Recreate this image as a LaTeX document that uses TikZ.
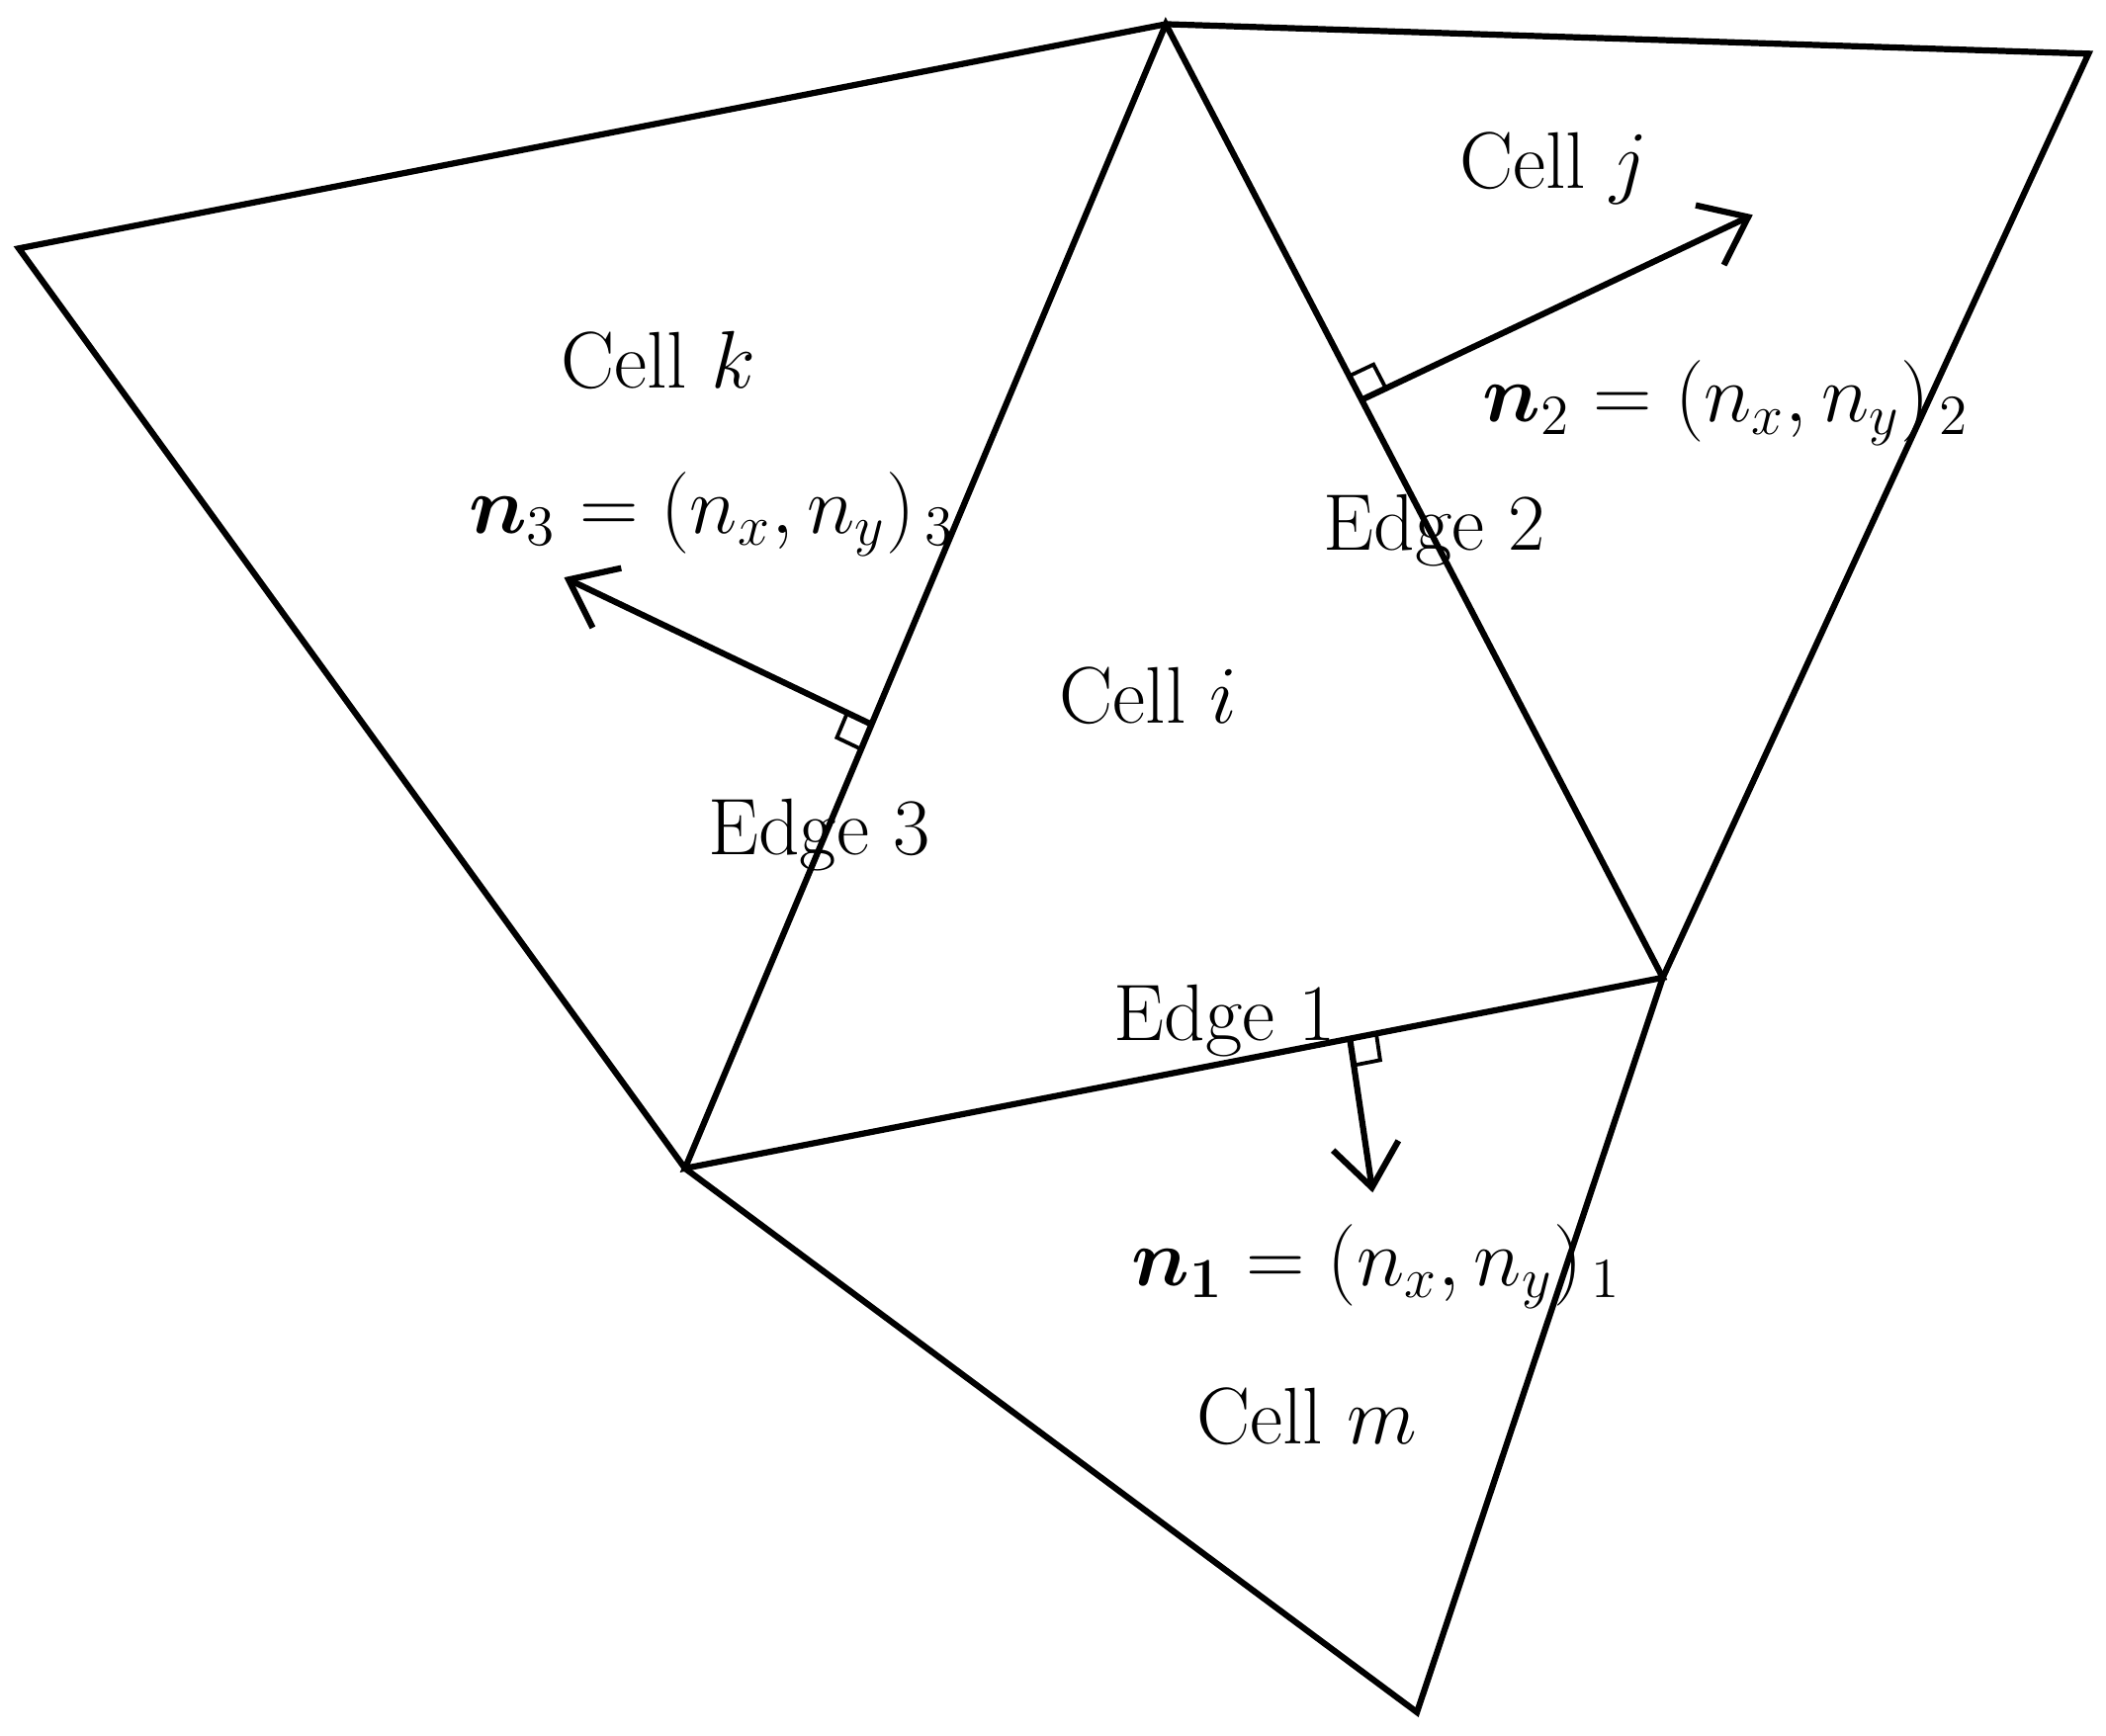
\documentclass[tikz,border=0pt]{standalone}
\usepackage{amsmath,bm}
\usetikzlibrary{calc,arrows.meta}
\begin{document}
\begin{tikzpicture}[x=0.01cm,y=-0.01cm,
  edge/.style={line width=1.3pt,line join=miter},
  nrm/.style={line width=1.3pt,-{Straight Barb[length=9pt,width=14pt]}},
  ra/.style={line width=0.8pt},
  lab/.style={font=\fontsize{17}{20}\selectfont,inner sep=0pt}]
\useasboundingbox (0,0) rectangle (1568,1292);
\coordinate (A) at (868,18);
\coordinate (TR) at (1555,40);
\coordinate (L) at (14,185);
\coordinate (B) at (510,870);
\coordinate (R) at (1238,728);
\coordinate (Bo) at (1055,1275);
\draw[edge] (L) -- (A) -- (TR) -- (R) -- (Bo) -- (B) -- cycle;
\draw[edge] (A) -- (B) -- (R) -- cycle;
% normals
\coordinate (f3) at ($(A)!0.612!(B)$);
\coordinate (t3) at (420,430);
\coordinate (f2) at ($(A)!0.394!(R)$);
\coordinate (t2) at (1305,160);
\coordinate (f1) at ($(B)!0.68!(R)$);
\coordinate (t1) at (1022,888);
\draw[nrm] (f3) -- (t3);
\draw[nrm] (f2) -- (t2);
\draw[nrm] (f1) -- (t1);
\foreach \f/\t/\e in {f3/t3/B,f2/t2/A,f1/t1/R}{
  \coordinate (p) at ($(\f)!0.2cm!(\t)$);
  \coordinate (q) at ($(\f)!0.2cm!(\e)$);
  \draw[ra] (p) -- ($(p)+(q)-(\f)$) -- (q);
}
\node[lab] (ck) at (490,268) {Cell $k$};
\node[lab] (n3) at (530,383) {$\bm{n}_3=(n_x,n_y)_{\,3}$};
\node[lab] (e3) at (610,622) {Edge 3};
\node[lab] (ci) at (855,518) {Cell $i$};
\node[lab] (e2) at (1068,395) {Edge 2};
\node[lab] (cj) at (1157,125) {Cell $j$};
\node[lab] (n2) at (1285,300) {$\bm{n}_2=(n_x,n_y)_{\,2}$};
\node[lab] (e1) at (912,760) {Edge 1};
\node[lab] (n1) at (1025,943) {$\bm{n}_{\bm{1}}=(n_x,n_y)_{\,1}$};
\node[lab] (cm) at (973,1055) {Cell $m$};
\end{tikzpicture}
\end{document}
